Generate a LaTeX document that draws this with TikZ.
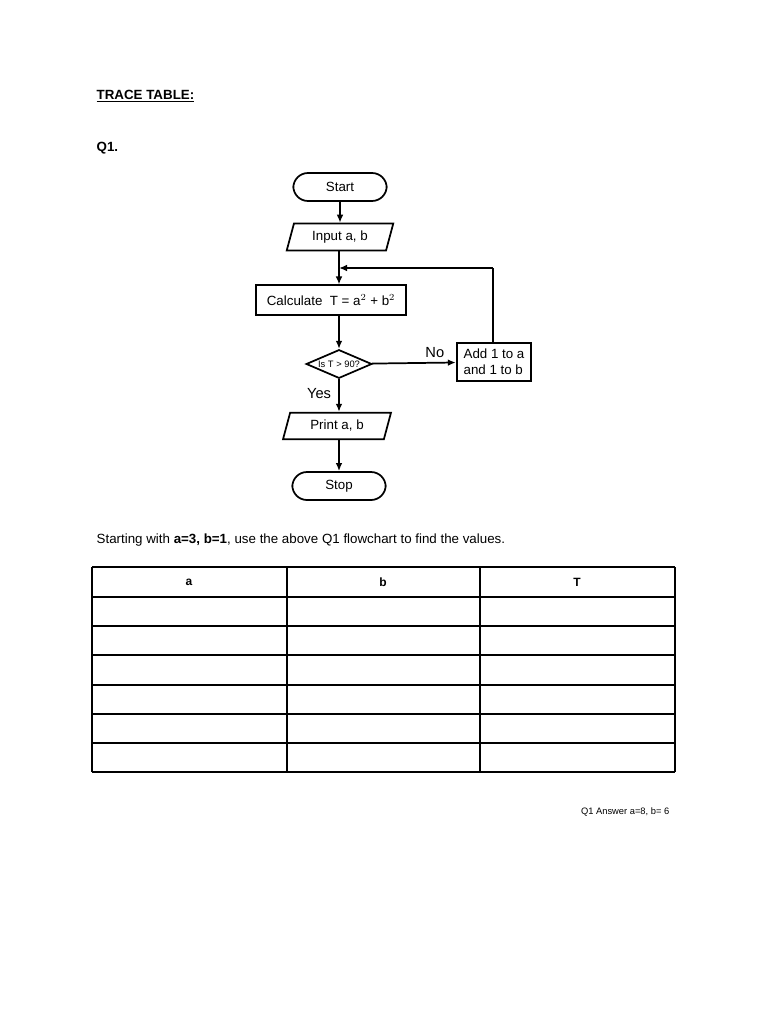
\documentclass[tikz,border=0pt]{standalone}
\usepackage{fontspec}
\setmainfont{Liberation Sans}
\usetikzlibrary{shapes.geometric,arrows.meta}
\begin{document}
\begin{tikzpicture}[x=0.75pt,y=-0.75pt,
  fc/.style={draw,line width=1.3pt,font=\fontsize{10}{12}\selectfont,inner sep=2pt},
  term/.style={fc,rounded corners=11pt,minimum width=70pt,minimum height=21pt},
  io/.style={fc,trapezium,trapezium left angle=75,trapezium right angle=105,minimum height=20pt,minimum width=70pt},
  proc/.style={fc,minimum height=22pt},
  dec/.style={fc,diamond,aspect=2.3,inner sep=1pt,font=\fontsize{7}{8}\selectfont},
  arr/.style={line width=1.3pt,-{Latex[length=6pt,width=5pt]}},
  cell/.style={draw,line width=0.8pt}]
\useasboundingbox[fill=white] (0,0) rectangle (768,1024);
\node[anchor=west,font=\bfseries\fontsize{10}{12}\selectfont] (title) at (92,96) {\underline{TRACE TABLE:}};
\node[anchor=west,font=\bfseries\fontsize{10}{12}\selectfont] (q1) at (92,148) {Q1.};
\node[term] (start) at (340,187) {Start};
\node[io,minimum width=80pt] (inp) at (340,237) {Input a, b};
\node[proc,minimum width=112pt] (calc) at (331,300) {Calculate\; T = a$^2$ + b$^2$};
\node[dec] (dec) at (339,364) {Is T > 90?};
\node[proc,align=left,minimum width=56pt,minimum height=28pt] (add) at (494,362) {Add 1 to a\\and 1 to b};
\node[io,minimum width=78pt] (prt) at (337,426) {Print a, b};
\node[term] (stop) at (339,486) {Stop};
\coordinate (j) at (339,268);
\coordinate (c1) at (493,268);
\draw[arr] (start) -- (inp);
\draw[arr] (inp.south -| j) -- (calc.north -| j);
\draw[arr] (calc.south -| dec) -- (dec);
\draw[arr] (dec) -- node[pos=0.75,above,font=\fontsize{11}{13}\selectfont]{No} (add);
\draw[line width=1.3pt] (add.north -| c1) -- (c1);
\draw[arr] (c1) -- (j);
\draw[arr] (dec.south) -- node[left,pos=0.45,font=\fontsize{11}{13}\selectfont,xshift=-2pt]{Yes} (prt.north -| dec.south);
\draw[arr] (prt.south -| stop) -- (stop);
\node[anchor=west,font=\fontsize{10}{12}\selectfont] (txt) at (92,540) {Starting with \textbf{a=3, b=1}, use the above Q1 flowchart to find the values.};
\foreach \x in {92,287,480,675} \draw[cell] (\x,567) -- (\x,772);
\foreach \y in {567,597,626,655,685,714,743,772} \draw[cell] (92,\y) -- (675,\y);
\node[font=\bfseries\fontsize{9}{11}\selectfont] (ha) at (189,582) {a};
\node[font=\bfseries\fontsize{9}{11}\selectfont] (hb) at (383,582) {b};
\node[font=\bfseries\fontsize{9}{11}\selectfont] (ht) at (577,582) {T};
\node[anchor=east,font=\fontsize{7}{9}\selectfont] (ans) at (674,812) {Q1 Answer a=8, b= 6};
\end{tikzpicture}
\end{document}
